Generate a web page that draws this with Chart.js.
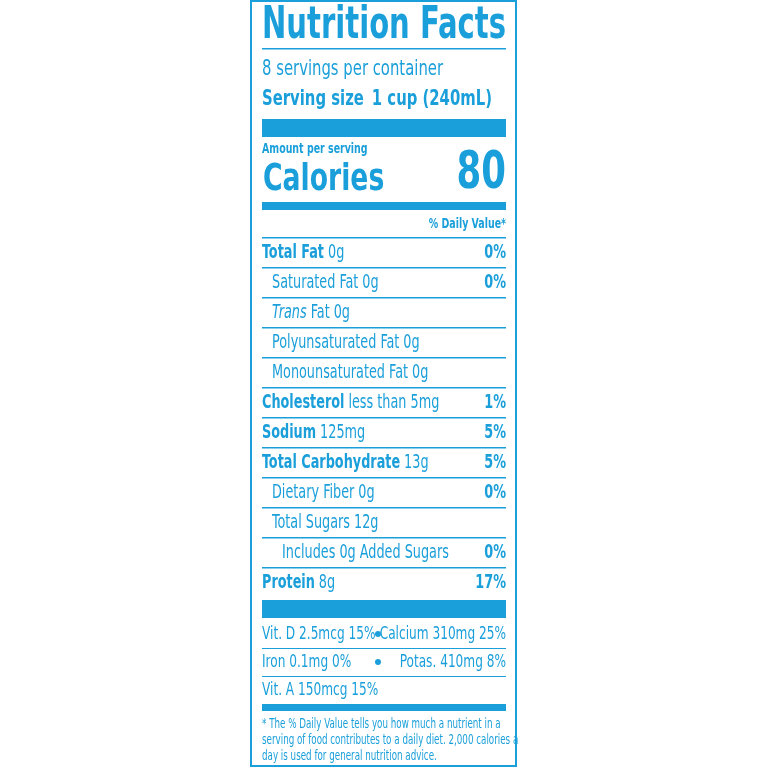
<!DOCTYPE html>
<html lang="en">
<head>
  <meta charset="UTF-8">
  <title>Nutrition Facts</title>
  <style>
    body { margin: 0; background: #fff; }
    #wrap { width: 768px; height: 768px; }
  </style>
</head>
<body>
<div id="wrap"><canvas id="label"></canvas></div>
<script src="https://cdn.jsdelivr.net/npm/chart.js"></script>
<script>
  // label content
  const servings = '8 servings per container';
  const servingSize = ['Serving size', '1 cup (240mL)'];
  const calories = 80;
  const nutrients = ['Total Fat', 'Saturated Fat', 'Trans Fat', 'Polyunsaturated Fat', 'Monounsaturated Fat',
    'Cholesterol', 'Sodium', 'Total Carbohydrate', 'Dietary Fiber', 'Total Sugars', 'Includes 0g Added Sugars', 'Protein'];
  const amounts = ['0g', '0g', '0g', '0g', '0g', 'less than 5mg', '125mg', '13g', '0g', '12g', '', '8g'];
  const dailyValues = ['0%', '0%', '', '', '', '1%', '5%', '5%', '0%', '', '0%', '17%'];
  const indentLevel = [0, 1, 1, 1, 1, 0, 0, 0, 1, 1, 2, 0];
  const vitaminLeft = ['Vit. D 2.5mcg 15%', 'Iron 0.1mg 0%', 'Vit. A 150mcg 15%'];
  const vitaminRight = ['Calcium 310mg 25%', 'Potas. 410mg 8%', ''];
  const footnote = ['* The % Daily Value tells you how much a nutrient in a',
    'serving of food contributes to a daily diet. 2,000 calories a',
    'day is used for general nutrition advice.'];

  const BLUE = '#1a9fda';
  const FONT = '"Liberation Sans Narrow", "DejaVu Sans Condensed", sans-serif';
  const SQUEEZE = 0.75; // no narrow font installed, so compress horizontally

  const labelPlugin = {
    id: 'label',
    afterDraw(chart) {
      const c = chart.ctx, x = chart.scales.x, y = chart.scales.y;
      const X = v => x.getPixelForValue(v), Y = v => y.getPixelForValue(v);
      c.save();
      c.fillStyle = BLUE; c.strokeStyle = BLUE;
      const L = 262, R = 506;
      const hline = (yy, h) => c.fillRect(X(L), Y(yy), X(R) - X(L), h);
      const text = (s, xx, yy, size, weight, align, style, sq) => {
        const f = sq || SQUEEZE;
        c.font = (style || '') + ' ' + (weight || 'normal') + ' ' + size + 'px ' + FONT;
        c.textAlign = align || 'left'; c.textBaseline = 'middle';
        c.save();
        c.scale(f, 1);
        c.fillText(s, X(xx) / f, Y(yy));
        c.restore();
        return c.measureText(s).width * f;
      };
      // border
      c.lineWidth = 2;
      c.strokeRect(X(251), Y(1), X(516) - X(251), Y(766) - Y(1));

      c.font = 'bold 44px ' + FONT;
      const titleSq = (X(R) - X(L)) / c.measureText('Nutrition Facts').width;
      text('Nutrition Facts', L, 27, 44, 'bold', 'left', '', titleSq);
      hline(48, 1.5);
      text(servings, L, 69, 22);
      let w = text(servingSize[0], L, 99, 22, 'bold');
      text(servingSize[1], L + w + 8, 99, 22, 'bold');
      hline(119, 18);
      text('Amount per serving', L, 149, 14, 'bold');
      text('Calories', L + 1, 180, 38, 'bold', 'left', '', 0.78);
      text(String(calories), R, 174, 52, 'bold', 'right', '', 0.76);
      hline(202, 8);
      text('% Daily Value*', R, 224, 14, 'bold', 'right');

      nutrients.forEach((n, i) => {
        const cy = 253 + i * 30;
        hline(cy - 16, 1.5);
        let xx = L + indentLevel[i] * 10;
        if (indentLevel[i] === 0) {
          w = text(n, xx, cy, 19, 'bold');
        } else if (n === 'Trans Fat') {
          w = text('Trans', xx, cy, 19, 'normal', 'left', 'italic');
          w += text(' Fat', xx + w, cy, 19);
        } else {
          w = text(n, xx, cy, 19);
        }
        if (amounts[i]) text(amounts[i], xx + w + 4, cy, 19);
        if (dailyValues[i]) text(dailyValues[i], R, cy, 19, 'bold', 'right');
      });
      hline(600, 18);
      vitaminLeft.forEach((s, i) => {
        const cy = 634 + i * 28;
        if (i > 0) hline(cy - 14, 1);
        text(s, L, cy, 18);
        if (vitaminRight[i]) {
          text(vitaminRight[i], R, cy, 18, 'normal', 'right');
          c.beginPath(); c.arc(X(378), Y(cy), 3, 0, Math.PI * 2); c.fill();
        }
      });
      hline(704, 7);
      footnote.forEach((s, i) => text(s, L, 724 + i * 16, 13.5, 'normal', 'left', '', 0.72));
      c.restore();
    }
  };

  new Chart(document.getElementById('label'), {
    type: 'scatter',
    data: { datasets: [{ data: [] }] },
    options: {
      responsive: true,
      maintainAspectRatio: false,
      animation: false,
      layout: { padding: 0 },
      plugins: { legend: { display: false }, tooltip: { enabled: false } },
      scales: {
        x: { type: 'linear', min: 0, max: 768, display: false },
        y: { type: 'linear', min: 0, max: 768, reverse: true, display: false }
      }
    },
    plugins: [labelPlugin]
  });
</script>
</body>
</html>
